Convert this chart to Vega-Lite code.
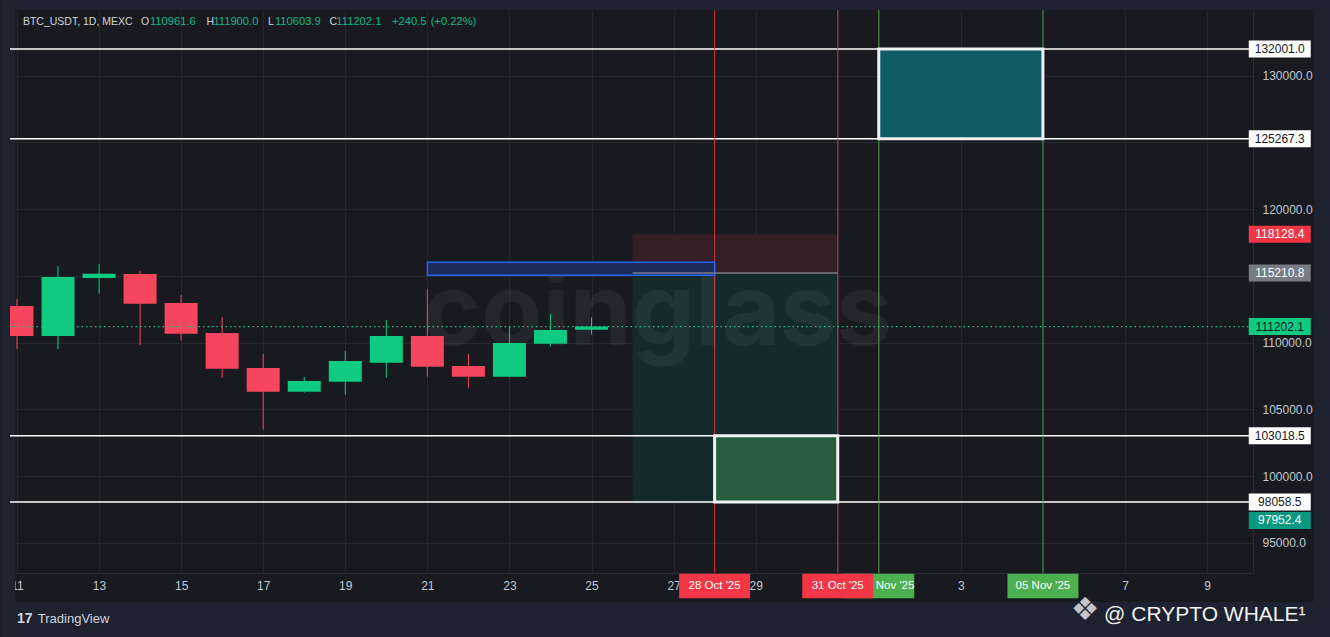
{
  "$schema": "https://vega.github.io/schema/vega-lite/v6.json",
  "width": 1243,
  "height": 563,
  "autosize": {"type": "none"},
  "padding": {"left": 10, "top": 10, "right": 77, "bottom": 64},
  "background": "#181a1f",
  "config": {
    "view": {"stroke": null, "fill": "#181a1f"},
    "font": "Liberation Sans",
    "axis": {
      "gridColor": "#25282f",
      "gridWidth": 1,
      "domainColor": "#2a2e39",
      "ticks": false,
      "tickSize": 0,
      "labelColor": "#c5c8ce",
      "labelFontSize": 12,
      "labelFont": "Liberation Sans"
    }
  },
  "datasets": {
    "candles": [
      {"d": 11, "o": 112744, "h": 113268, "l": 109522, "c": 110496},
      {"d": 12, "o": 110496, "h": 115741, "l": 109522, "c": 114917},
      {"d": 13, "o": 114842, "h": 115891, "l": 113666, "c": 115164},
      {"d": 14, "o": 115142, "h": 115366, "l": 109822, "c": 112917},
      {"d": 15, "o": 112969, "h": 113568, "l": 110144, "c": 110668},
      {"d": 16, "o": 110721, "h": 111920, "l": 107372, "c": 108046},
      {"d": 17, "o": 108098, "h": 109147, "l": 103475, "c": 106322},
      {"d": 18, "o": 106322, "h": 107424, "l": 106250, "c": 107124},
      {"d": 19, "o": 107072, "h": 109372, "l": 106098, "c": 108623},
      {"d": 20, "o": 108498, "h": 111695, "l": 107372, "c": 110496},
      {"d": 21, "o": 110496, "h": 114018, "l": 107447, "c": 108196},
      {"d": 22, "o": 108248, "h": 109147, "l": 106622, "c": 107447},
      {"d": 23, "o": 107447, "h": 111245, "l": 107400, "c": 109972},
      {"d": 24, "o": 109919, "h": 112145, "l": 109697, "c": 110946},
      {"d": 25, "o": 110961.6, "h": 111900.0, "l": 110603.9, "c": 111202.1}
    ],
    "levels": [
      {"p": 132001.0, "t": "132001.0", "k": "level"},
      {"p": 125267.3, "t": "125267.3", "k": "level"},
      {"p": 118128.4, "t": "118128.4", "k": "stop"},
      {"p": 115210.8, "t": "115210.8", "k": "entry"},
      {"p": 111202.1, "t": "111202.1", "k": "last"},
      {"p": 103018.5, "t": "103018.5", "k": "level"},
      {"p": 98058.5, "t": "98058.5", "k": "level"},
      {"p": 97952.4, "t": "97952.4", "k": "target"}
    ],
    "zones": [
      {"id": "stop", "d1": 26, "d2": 31, "p1": 115210.8, "p2": 118128.4},
      {"id": "target", "d1": 26, "d2": 31, "p1": 97952.4, "p2": 115210.8},
      {"id": "tp1", "d1": 28, "d2": 31, "p1": 98058.5, "p2": 103018.5},
      {"id": "tp2", "d1": 32, "d2": 36, "p1": 125267.3, "p2": 132001.0},
      {"id": "range", "d1": 21, "d2": 28, "p1": 115045, "p2": 116018}
    ],
    "vlines": [
      {"d": 28, "k": "r"},
      {"d": 31, "k": "r"},
      {"d": 32, "k": "g"},
      {"d": 36, "k": "g"}
    ],
    "dates": [
      {"d": 32, "t": "Nov '25", "k": "g"},
      {"d": 28, "t": "28 Oct '25", "k": "r"},
      {"d": 31, "t": "31 Oct '25", "k": "r"},
      {"d": 36, "t": "05 Nov '25", "k": "g"}
    ],
    "header": [
      {"d": 11.145, "t": "BTC_USDT, 1D, MEXC", "k": "lab"},
      {"d": 14.022, "t": "O", "k": "lab"},
      {"d": 14.239, "t": "110961.6", "k": "val"},
      {"d": 15.617, "t": "H", "k": "lab"},
      {"d": 15.786, "t": "111900.0", "k": "val"},
      {"d": 17.116, "t": "L", "k": "lab"},
      {"d": 17.285, "t": "110603.9", "k": "val"},
      {"d": 18.614, "t": "C", "k": "lab"},
      {"d": 18.783, "t": "111202.1", "k": "val"},
      {"d": 20.137, "t": "+240.5", "k": "val"},
      {"d": 21.08, "t": "(+0.22%)", "k": "val"}
    ]
  },
  "data": {"name": "candles"},
  "layer": [
    {
      "data": {"values": [{}]},
      "mark": {"type": "rect", "fill": "#1e2130"},
      "encoding": {
        "x": {"datum": 10.6}, "x2": {"datum": 43},
        "y": {"datum": 134923}, "y2": {"datum": 136000}
      }
    },
    {
      "data": {"values": [{}]},
      "mark": {"type": "rect", "fill": "#1e2130"},
      "encoding": {
        "x": {"datum": 10.6}, "x2": {"datum": 10.952},
        "y": {"datum": 87500}, "y2": {"datum": 136000}
      }
    },
    {
      "data": {"values": [{}]},
      "mark": {"type": "rect", "fill": "#1e2130"},
      "encoding": {
        "x": {"datum": 42.595}, "x2": {"datum": 43},
        "y": {"datum": 87500}, "y2": {"datum": 136000}
      }
    },
    {
      "data": {"values": [{}]},
      "mark": {"type": "rect", "fill": "#1e2130"},
      "encoding": {
        "x": {"datum": 10.6}, "x2": {"datum": 43},
        "y": {"datum": 87500}, "y2": {"datum": 90565}
      }
    },
    {
      "data": {"name": "zones"},
      "transform": [{"filter": "datum.id == 'stop' || datum.id == 'target'"}],
      "mark": {"type": "rect"},
      "encoding": {
        "x": {"field": "d1", "type": "quantitative"},
        "x2": {"field": "d2"},
        "y": {"field": "p1", "type": "quantitative"},
        "y2": {"field": "p2"},
        "fill": {
          "field": "id", "type": "nominal", "legend": null,
          "scale": {"domain": ["stop", "target"], "range": ["#331f25", "#142a2b"]}
        }
      }
    },
    {
      "data": {"values": [{}]},
      "mark": {
        "type": "text", "text": "coinglass", "font": "Inter", "fontSize": 100,
        "fontWeight": "bold", "fill": "#ffffff", "opacity": 0.05,
        "align": "center", "baseline": "alphabetic"
      },
      "encoding": {"x": {"datum": 26.6}, "y": {"datum": 109823}}
    },
    {
      "data": {"name": "levels"},
      "transform": [{"filter": "datum.k == 'level'"}],
      "mark": {"type": "rule", "color": "#ffffff", "strokeWidth": 1.5},
      "encoding": {"y": {"field": "p", "type": "quantitative"}}
    },
    {
      "data": {"name": "vlines"},
      "mark": {"type": "rule", "strokeWidth": 1, "opacity": 0.85},
      "encoding": {
        "x": {"field": "d", "type": "quantitative"},
        "color": {
          "field": "k", "type": "nominal", "legend": null,
          "scale": {"domain": ["r", "g"], "range": ["#f23645", "#4caf50"]}
        }
      }
    },
    {
      "data": {"name": "zones"},
      "transform": [{"filter": "datum.id == 'tp1' || datum.id == 'tp2'"}],
      "mark": {"type": "rect", "stroke": "#f0f2f4", "strokeWidth": 3},
      "encoding": {
        "x": {"field": "d1", "type": "quantitative"},
        "x2": {"field": "d2"},
        "y": {"field": "p1", "type": "quantitative"},
        "y2": {"field": "p2"},
        "fill": {
          "field": "id", "type": "nominal", "legend": null,
          "scale": {"domain": ["tp1", "tp2"], "range": ["#265e3f", "#0f5b66"]}
        }
      }
    },
    {
      "data": {"name": "zones"},
      "transform": [{"filter": "datum.id == 'range'"}],
      "mark": {"type": "rect", "fill": "#1d2b58", "stroke": "#2962ff", "strokeWidth": 1.5},
      "encoding": {
        "x": {"field": "d1", "type": "quantitative"},
        "x2": {"field": "d2"},
        "y": {"field": "p1", "type": "quantitative"},
        "y2": {"field": "p2"}
      }
    },
    {
      "data": {"name": "zones"},
      "transform": [{"filter": "datum.id == 'stop'"}],
      "mark": {"type": "rule", "color": "#787b86", "strokeWidth": 1.5},
      "encoding": {
        "x": {"field": "d1", "type": "quantitative"},
        "x2": {"field": "d2"},
        "y": {"field": "p1", "type": "quantitative"}
      }
    },
    {
      "mark": {"type": "rule", "clip": true, "strokeWidth": 1},
      "encoding": {
        "x": {
          "field": "d", "type": "quantitative",
          "scale": {"domain": [10.952, 40.997], "nice": false, "zero": false},
          "axis": {
            "title": null, "grid": true, "orient": "bottom",
            "values": [11, 13, 15, 17, 19, 21, 23, 25, 27, 29, 31, 32, 34, 36, 38, 40],
            "labelExpr": "datum.value == 31 || datum.value == 32 || datum.value == 36 ? '' : datum.value > 31 ? '' + (datum.value - 31) : '' + datum.value",
            "labelPadding": 7, "labelFlush": false, "labelOverlap": false
          }
        },
        "y": {
          "field": "l", "type": "quantitative",
          "scale": {"domain": [92738, 134923], "nice": false, "zero": false},
          "axis": {
            "title": null, "grid": true, "orient": "right",
            "values": [95000, 97500, 100000, 102500, 105000, 107500, 110000, 112500, 115000, 117500, 120000, 122500, 125000, 127500, 130000, 132500],
            "labelExpr": "datum.value == 115000 || datum.value == 125000 || datum.value == 97500 ? '' : format(datum.value, '.1f')",
            "labelPadding": 9, "labelFlush": false, "labelOverlap": false
          }
        },
        "y2": {"field": "h"},
        "color": {
          "condition": {"test": "datum.c >= datum.o", "value": "#0ecb81"},
          "value": "#f6465d"
        }
      }
    },
    {
      "mark": {"type": "bar", "clip": true, "size": 33},
      "encoding": {
        "x": {"field": "d", "type": "quantitative"},
        "y": {"field": "o", "type": "quantitative"},
        "y2": {"field": "c"},
        "color": {
          "condition": {"test": "datum.c >= datum.o", "value": "#0ecb81"},
          "value": "#f6465d"
        }
      }
    },
    {
      "data": {"values": [{}]},
      "mark": {"type": "rule", "color": "#0ecb81", "strokeWidth": 1.2, "strokeDash": [1.5, 3]},
      "encoding": {"y": {"datum": 111202.1}}
    },
    {
      "data": {"name": "levels"},
      "transform": [{"filter": "datum.k != 'target'"}],
      "mark": {"type": "point", "shape": "M-1,-0.274H1V0.274H-1Z", "size": 3844, "filled": true, "opacity": 1, "strokeWidth": 0},
      "encoding": {
        "x": {"datum": 41.771},
        "y": {"field": "p", "type": "quantitative"},
        "fill": {
          "field": "k", "type": "nominal", "legend": null,
          "scale": {"domain": ["level", "stop", "entry", "last"], "range": ["#ffffff", "#f23645", "#787b86", "#0ecb81"]}
        }
      }
    },
    {
      "data": {"name": "levels"},
      "transform": [{"filter": "datum.k != 'target'"}],
      "mark": {"type": "text", "fontSize": 12, "align": "center", "baseline": "middle"},
      "encoding": {
        "x": {"datum": 41.771},
        "y": {"field": "p", "type": "quantitative"},
        "text": {"field": "t"},
        "fill": {
          "field": "k", "type": "nominal", "legend": null,
          "scale": {"domain": ["level", "stop", "entry", "last"], "range": ["#131722", "#ffffff", "#ffffff", "#131722"]}
        }
      }
    },
    {
      "data": {"name": "levels"},
      "transform": [{"filter": "datum.k == 'target'"}],
      "mark": {"type": "point", "shape": "M-1,-0.274H1V0.274H-1Z", "size": 3844, "filled": true, "opacity": 1, "strokeWidth": 0, "fill": "#089981", "yOffset": 17},
      "encoding": {
        "x": {"datum": 41.771},
        "y": {"field": "p", "type": "quantitative"}
      }
    },
    {
      "data": {"name": "levels"},
      "transform": [{"filter": "datum.k == 'target'"}],
      "mark": {"type": "text", "fontSize": 12, "align": "center", "baseline": "middle", "fill": "#ffffff", "yOffset": 17},
      "encoding": {
        "x": {"datum": 41.771},
        "y": {"field": "p", "type": "quantitative"},
        "text": {"field": "t"}
      }
    },
    {
      "data": {"name": "dates"},
      "transform": [{"filter": "datum.d == 32"}],
      "mark": {"type": "point", "shape": "M-1,-0.343H1V0.343H-1Z", "size": 5041, "filled": true, "opacity": 1, "strokeWidth": 0, "fill": "#4caf50"},
      "encoding": {
        "x": {"field": "d", "type": "quantitative"},
        "y": {"datum": 91763}
      }
    },
    {
      "data": {"name": "dates"},
      "transform": [{"filter": "datum.d != 32"}],
      "mark": {"type": "point", "shape": "M-1,-0.343H1V0.343H-1Z", "size": 5041, "filled": true, "opacity": 1, "strokeWidth": 0},
      "encoding": {
        "x": {"field": "d", "type": "quantitative"},
        "y": {"datum": 91763},
        "fill": {
          "field": "k", "type": "nominal", "legend": null,
          "scale": {"domain": ["r", "g"], "range": ["#f23645", "#4caf50"]}
        }
      }
    },
    {
      "data": {"name": "dates"},
      "transform": [{"filter": "datum.d == 32"}],
      "mark": {"type": "text", "fontSize": 11.5, "align": "left", "baseline": "middle", "fill": "#ffffff", "dx": -3},
      "encoding": {
        "x": {"field": "d", "type": "quantitative"},
        "y": {"datum": 91763},
        "text": {"field": "t"}
      }
    },
    {
      "data": {"name": "dates"},
      "transform": [{"filter": "datum.d != 32"}],
      "mark": {"type": "text", "fontSize": 11.5, "align": "center", "baseline": "middle", "fill": "#ffffff"},
      "encoding": {
        "x": {"field": "d", "type": "quantitative"},
        "y": {"datum": 91763},
        "text": {"field": "t"}
      }
    },
    {
      "data": {"name": "header"},
      "transform": [{"filter": "datum.k == 'lab'"}],
      "mark": {"type": "text", "fontSize": 10.5, "align": "left", "baseline": "middle", "fill": "#d1d4dc"},
      "encoding": {
        "x": {"field": "d", "type": "quantitative"},
        "y": {"datum": 134024},
        "text": {"field": "t"}
      }
    },
    {
      "data": {"name": "header"},
      "transform": [{"filter": "datum.k == 'val'"}],
      "mark": {"type": "text", "fontSize": 11.2, "align": "left", "baseline": "middle", "fill": "#12b886"},
      "encoding": {
        "x": {"field": "d", "type": "quantitative"},
        "y": {"datum": 134024},
        "text": {"field": "t"}
      }
    },
    {
      "data": {"values": [{}]},
      "mark": {"type": "text", "text": "17", "fontSize": 14, "fontWeight": "bold", "fill": "#d1d4dc", "align": "left", "baseline": "middle"},
      "encoding": {"x": {"datum": 11.0}, "y": {"datum": 89291}}
    },
    {
      "data": {"values": [{}]},
      "mark": {"type": "text", "text": "TradingView", "fontSize": 13, "fill": "#d1d4dc", "align": "left", "baseline": "middle"},
      "encoding": {"x": {"datum": 11.508}, "y": {"datum": 89291}}
    },
    {
      "data": {"values": [{}]},
      "mark": {"type": "text", "text": "❖", "font": "DejaVu Sans", "fontSize": 32, "fill": "#c3c5ca", "align": "center", "baseline": "middle"},
      "encoding": {"x": {"datum": 37.03}, "y": {"datum": 89965}}
    },
    {
      "data": {"values": [{}]},
      "mark": {"type": "text", "text": "@ CRYPTO WHALE¹", "fontSize": 21, "fill": "#f2f2f2", "align": "left", "baseline": "alphabetic"},
      "encoding": {"x": {"datum": 37.49}, "y": {"datum": 89141}}
    }
  ],
  "resolve": {"scale": {"fill": "independent", "color": "independent"}}
}
